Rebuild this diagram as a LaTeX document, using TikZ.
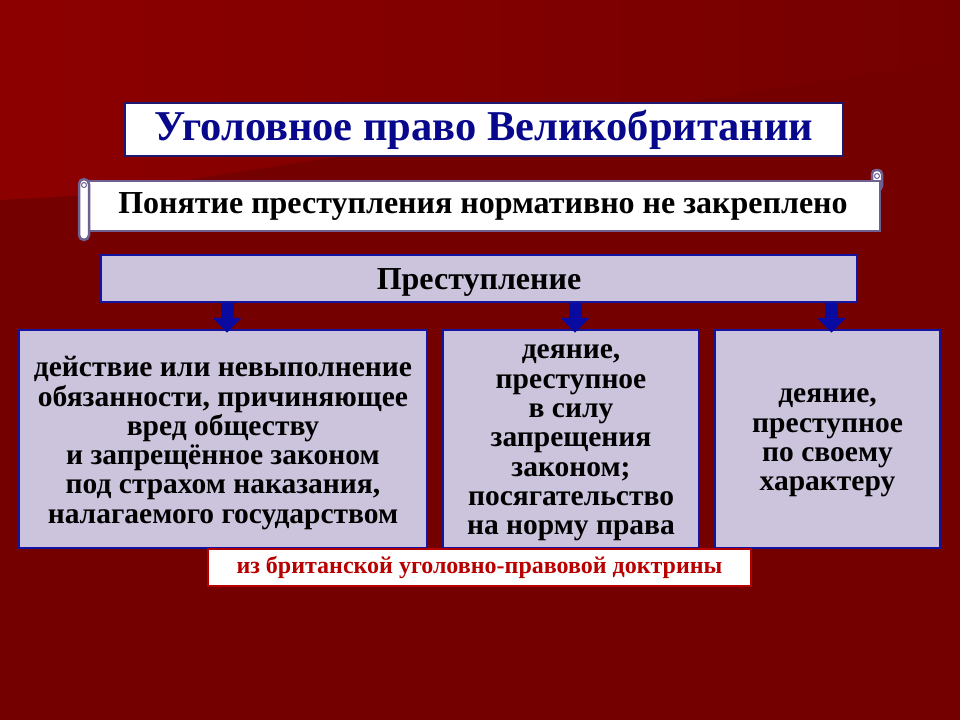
\documentclass[tikz,border=0pt]{standalone}
\usepackage{fontspec}
\setmainfont{Liberation Serif}
\usetikzlibrary{arrows.meta}
\definecolor{bgdark}{RGB}{117,0,0}
\definecolor{bglight}{RGB}{141,0,0}
\definecolor{navytext}{RGB}{8,8,140}
\definecolor{navyline}{RGB}{30,24,110}
\definecolor{scrollline}{RGB}{110,96,145}
\definecolor{lavfill}{RGB}{204,196,220}
\definecolor{lavline}{RGB}{20,20,160}
\definecolor{arrowblue}{RGB}{8,10,160}
\definecolor{labred}{RGB}{180,0,0}
\definecolor{labtext}{RGB}{185,0,0}
\tikzset{
  titlebox/.style={draw=navyline, line width=2pt, fill=white, inner sep=0pt,
    text=navytext, font=\fontsize{42.5}{46}\selectfont\bfseries},
  scrollbody/.style={draw=scrollline, line width=2.5pt, fill=white, inner sep=0pt,
    text=black, font=\fontsize{32}{36}\selectfont\bfseries},
  lavbox/.style={draw=lavline, line width=2.5pt, fill=lavfill, inner sep=0pt},
  boxtext/.style={inner sep=0pt, text=black, align=center,
    font=\fontsize{29.5}{29.3}\selectfont\bfseries},
  notebox/.style={draw=labred, line width=2.5pt, fill=white, inner sep=0pt,
    text=labtext, font=\fontsize{24}{26}\selectfont\bfseries},
  blockarrow/.style={draw=arrowblue, line width=13pt,
    -{Triangle[width=28pt,length=15pt]}},
}
\begin{document}
\begin{tikzpicture}[x=1pt,y=-1pt]
\useasboundingbox (0,0) rectangle (960,720);
% background
\fill[bgdark] (0,0) rectangle (960,720);
\shade[left color=bglight, right color=bgdark]
  (0,0) -- (960,0) -- (960,60) -- (90,195) -- (0,200) -- cycle;
% title
\node[titlebox, minimum width=718pt, minimum height=53pt] (title) at (484,129.5)
  {Уголовное право Великобритании};
% scroll
\draw[scrollline, line width=2.5pt, fill=white, rounded corners=4pt]
  (872,170) rectangle (882,190);
\node[scrollbody, minimum width=794pt, minimum height=50pt] (scroll) at (483,206)
  {Понятие преступления нормативно не закреплено};
\draw[scrollline, line width=2.5pt, fill=white, rounded corners=5pt]
  (79,179) rectangle (89,240);
\draw[scrollline, line width=1pt] (84,185) circle (2.5pt);
\draw[scrollline, line width=1pt] (877,176) circle (2.5pt);
% main box
\node[lavbox, minimum width=756pt, minimum height=47pt] (prest) at (479,278.5) {};
\node[inner sep=0pt, text=black, font=\fontsize{32}{34}\selectfont\bfseries]
  (prestt) at ([yshift=-4pt]prest.center) {Преступление};
% three boxes
\node[lavbox, minimum width=408pt, minimum height=218pt] (b1) at (223,439) {};
\node[lavbox, minimum width=256pt, minimum height=218pt] (b2) at (571,439) {};
\node[lavbox, minimum width=225pt, minimum height=218pt] (b3) at (827.5,439) {};
\node[boxtext] (t1) at ([yshift=-4pt]b1.center)
  {действие или невыполнение\\обязанности, причиняющее\\вред обществу\\и запрещённое законом\\под страхом наказания,\\налагаемого государством};
\node[boxtext] (t2) at ([yshift=-4pt]b2.center)
  {деяние,\\преступное\\в силу\\запрещения\\законом;\\посягательство\\на норму права};
\node[boxtext] (t3) at ([yshift=-4pt]b3.center)
  {деяние,\\преступное\\по своему\\характеру};
% arrows
\foreach \b in {b1,b2,b3}{
  \draw[blockarrow] ([xshift=4pt]\b.north |- prest.south) -- ([xshift=4pt,yshift=-4pt]\b.north);
}
% note
\node[notebox, minimum width=543pt, minimum height=37pt] (note) at (479.5,567.5)
  {из британской уголовно-правовой доктрины};
\end{tikzpicture}
\end{document}
